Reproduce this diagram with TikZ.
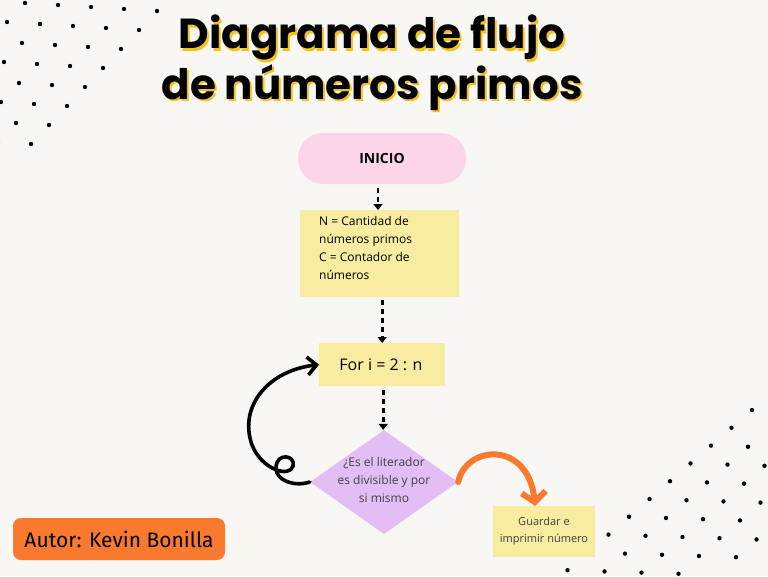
\documentclass[tikz,border=0pt]{standalone}
\usepackage{fontspec}
\setmainfont{Open Sans}
\newfontfamily\titlefont{Poppins}
\newfontfamily\handfont{Fira Sans}
\usetikzlibrary{arrows.meta,shapes.geometric}
\definecolor{bg}{HTML}{F8F7F3}
\definecolor{pinkc}{HTML}{FDD5E8}
\definecolor{yel}{HTML}{F7EC9F}
\definecolor{lil}{HTML}{E3BEF5}
\definecolor{ora}{HTML}{F97A2E}
\definecolor{shad}{HTML}{F6C31B}
\begin{document}
\begin{tikzpicture}[x=1pt,y=-1pt,
  box/.style={fill=yel,inner sep=0pt,anchor=north west},
  dsh/.style={line width=2.6pt,dash pattern=on 5pt off 4pt,-{Triangle[length=6pt,width=9pt]}},
  ttl/.style={font=\titlefont\bfseries\fontsize{42}{48}\selectfont}]
\fill[bg] (0,0) rectangle (768,576);
\useasboundingbox (0,0) rectangle (768,576);
% dots top-left
\foreach \r in {0,...,9}{\foreach \c in {-1,...,6}{
  \pgfmathsetmacro\px{25+33*\c-18*\r}\pgfmathsetmacro\py{3+2*\c+19*\r}
  \pgfmathparse{(\px>-3)&&(\px+0.93*\py<170)&&(\py<160)?1:0}
  \ifnum\pgfmathresult=1 \fill (\px,\py) circle (2.2);\fi}}
% dots bottom-right
\foreach \i in {0,...,12}{\foreach \j in {0,...,8}{
  \pgfmathsetmacro\px{752-20.5*\i+16.5*\j}\pgfmathsetmacro\py{410+17.8*\i+19*\j}
  \pgfmathparse{(\px<767)&&(\py<575)?1:0}
  \ifnum\pgfmathresult=1 \fill (\px,\py) circle (2.2);\fi}}
% title
\node[ttl,text=shad] (sh1) at (374,40) {Diagrama de flujo};
\node[ttl,text=black] (ti1) at (372,37.5) {Diagrama de flujo};
\node[ttl,text=shad] (sh2) at (374,90) {de números primos};
\node[ttl,text=black] (ti2) at (372,87.5) {de números primos};
% nodes
\node[fill=pinkc,rounded corners=25pt,minimum width=168pt,minimum height=51pt,font=\bfseries\fontsize{14}{16}\selectfont] (ini) at (382,158.5) {INICIO};
\node[box,minimum width=159pt,minimum height=87pt] (b1) at (300,210) {};
\node[align=left,anchor=north west,font=\fontsize{12}{18}\selectfont,inner sep=0pt] (t1) at (319,216) {N = Cantidad de\\números primos\\C = Contador de\\números};
\node[box,minimum width=126pt,minimum height=43pt] (b2) at (319,343) {};
\node[font=\fontsize{16}{18}\selectfont] (t2) at (381,364.5) {For i = 2 : n};
\node[diamond,fill=lil,minimum width=148pt,minimum height=104pt,inner sep=0pt,aspect=1.42] (d) at (384,482) {};
\node[align=center,font=\fontsize{12}{18}\selectfont,text=black!75] (t3) at (384,480) {¿Es el literador\\es divisible y por\\si mismo};
\node[box,minimum width=102pt,minimum height=51pt] (b3) at (493,506) {};
\node[align=center,font=\fontsize{11}{17}\selectfont,text=black!75] (t4) at (544,531) {Guardar e\\imprimir número};
\node[fill=ora,rounded corners=8pt,minimum width=212pt,minimum height=42pt,font=\handfont\fontsize{21}{24}\selectfont] (au) at (119,539) {Autor: Kevin Bonilla};
% connectors
\coordinate (is) at ([xshift=-4pt]ini.south);
\coordinate (b1s) at ([xshift=2.5pt]b1.south);
\coordinate (b2s) at ([xshift=1pt]b2.south);
\draw[dsh] ([yshift=-4pt]is) -- (is |- b1.north);
\draw[dsh] ([yshift=-3pt]b1s) -- (b1s |- b2.north);
\draw[dsh] ([yshift=-4pt]b2s) -- (b2s |- d.north);
\draw[line width=3.6pt,line cap=round,-{Straight Barb[length=9pt,width=18pt,line width=3.6pt]}]
  (d.west) .. controls (295,487) and (276,481) .. (276,468)
  .. controls (276,452) and (296,455) .. (293,466)
  .. controls (290,478) and (262,470) .. (252,445)
  .. controls (238,405) and (270,370) .. (b2.west);
\draw[ora,line width=6pt,line cap=round,-{Straight Barb[length=10pt,width=24pt,line width=6pt]}]
  (d.east) .. controls (466,445) and (528,440) .. ([xshift=-9pt]b3.north);
\end{tikzpicture}
\end{document}
